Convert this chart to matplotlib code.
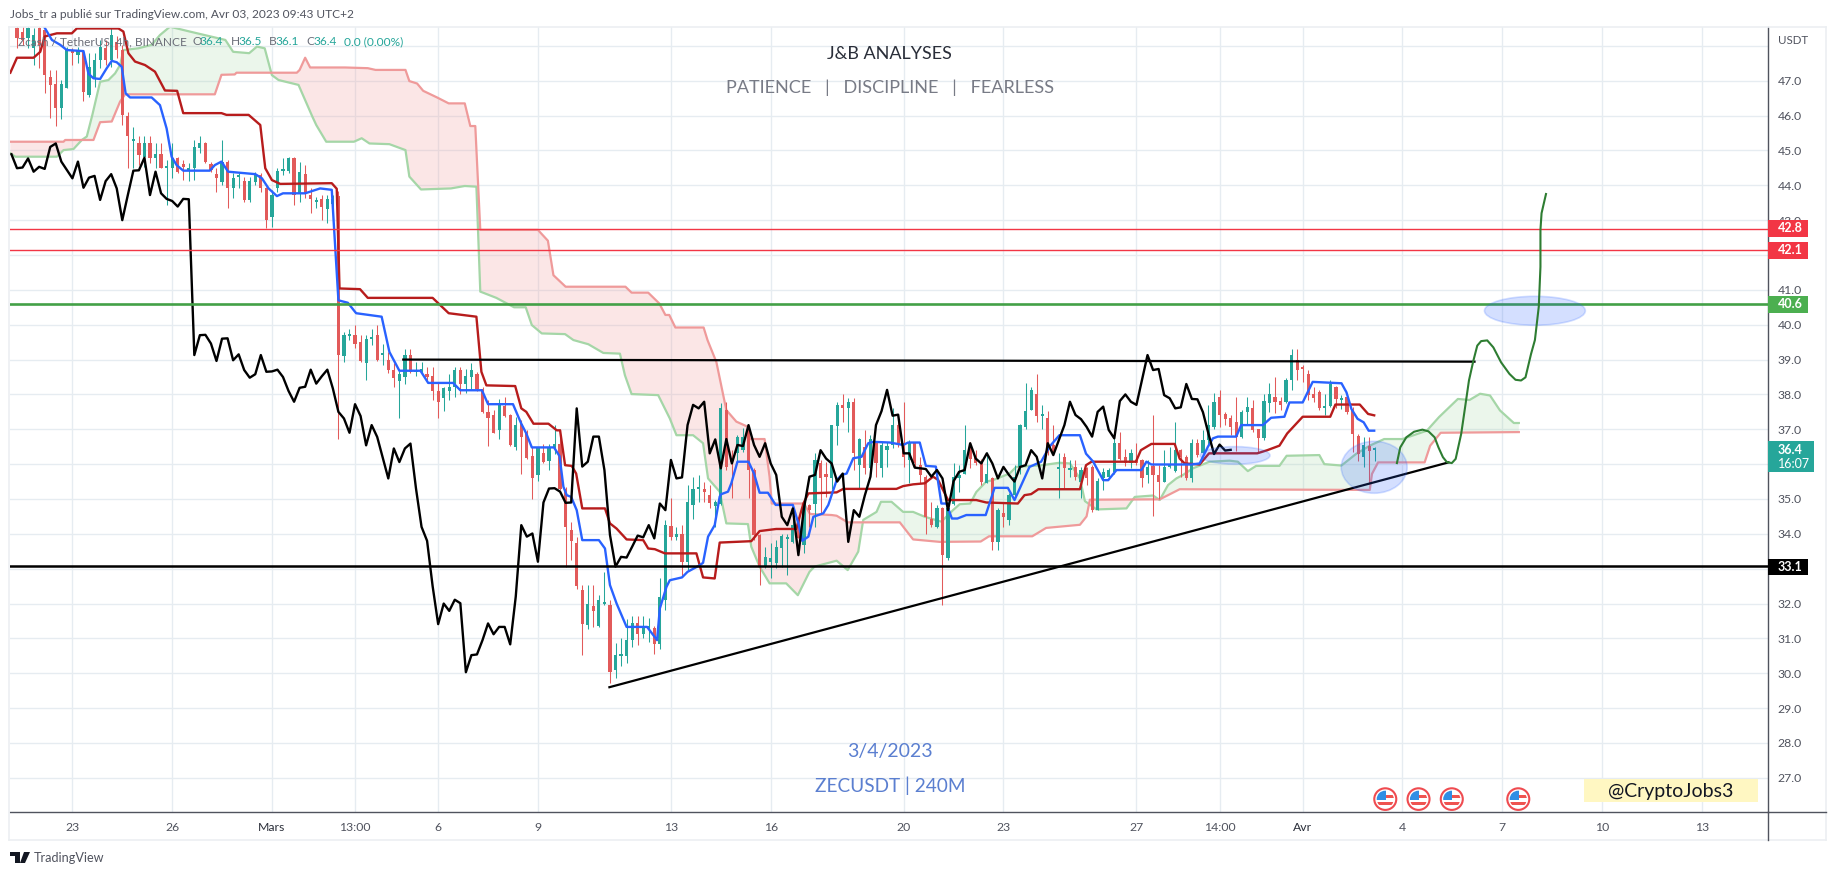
import numpy as np
import matplotlib
matplotlib.use("Agg")
import matplotlib.pyplot as plt
from matplotlib.patches import Ellipse, Rectangle, Polygon

plt.rcParams['font.family'] = ['Lato', 'DejaVu Sans']

W, H = 1834, 875
FONT_LABEL = '#50535e'

# ---- tick labels (x in 4h bars since 23 Feb 00:00) ----
x_tick_pos = [0, 18, 36, 51, 66, 84, 108, 126, 150, 168, 192, 207, 222, 240, 258, 276, 294]
x_tick_lab = ['23', '26', 'Mars', '13:00', '6', '9', '13', '16', '20', '23', '27', '14:00', 'Avr', '4', '7', '10', '13']
y_grid = [27, 28, 29, 30, 31, 32, 33, 34, 35, 36, 37, 38, 39, 40, 41, 42, 43, 44, 45, 46, 47, 48]
y_hidden_labels = [33, 36, 42, 48]

# ---- candles: first bar index, then OHLC ----
first_bar = -10
opens = [48.52,48.4,48.22,47.93,48.5,48.46,47.12,46.91,46.21,46.78,
47.88,47.74,47.83,46.59,47.07,47.6,47.93,47.6,48.12,47.88,
46.0,45.28,45.2,44.82,45.2,44.79,44.89,44.49,44.49,44.79,
44.6,44.45,44.49,45.08,45.2,44.6,44.31,44.1,44.68,43.91,
44.24,44.12,43.58,44.1,44.3,43.93,43.1,43.91,44.4,44.41,
44.79,43.77,44.31,43.72,43.52,43.61,43.32,43.45,43.7,39.1,
39.67,39.7,39.51,38.91,39.58,39.7,39.12,39.0,38.71,38.39,
38.5,39.13,38.63,38.68,38.6,38.52,38.1,37.91,38.1,38.22,
38.71,38.29,38.5,38.6,38.17,37.5,37.4,36.97,37.66,37.4,
36.48,37.15,36.93,36.23,35.68,36.32,36.09,36.5,36.59,35.3,
34.1,33.74,32.4,31.38,31.92,31.35,31.98,31.96,30.09,30.5,
30.5,30.95,31.43,31.12,31.3,31.3,30.83,32.1,34.23,33.92,
34.01,33.2,34.83,35.28,35.3,35.11,34.81,34.87,37.55,36.17,
36.31,36.4,37.03,35.83,33.97,33.06,33.2,33.15,33.58,33.85,
33.77,34.4,33.68,34.83,34.87,36.02,35.72,35.59,37.09,37.71,
37.6,37.79,35.97,36.5,35.88,36.6,35.88,36.4,36.55,37.12,
36.6,36.12,36.6,35.97,35.64,34.42,34.2,34.73,33.3,34.87,
35.59,35.73,36.45,36.21,36.07,35.47,35.59,33.77,34.61,34.39,
35.11,35.92,37.07,37.55,38.0,37.39,37.33,36.55,35.86,36.21,
35.82,35.92,35.5,35.88,35.92,34.68,35.59,35.64,35.78,36.6,
36.21,36.02,36.12,36.12,35.69,35.95,35.7,35.5,35.92,35.8,
36.4,36.21,35.61,36.6,36.31,36.69,37.07,37.93,37.43,37.31,
37.2,36.79,37.5,37.6,37.0,36.74,37.74,37.93,37.81,37.79,
38.41,38.98,38.79,38.6,38.0,38.08,37.6,37.68,38.2,37.83,
37.92,37.58,36.82,36.2,36.53,36.4]
highs = [48.6,48.6,48.6,48.5,48.6,48.6,47.31,47.31,47.02,47.98,
47.93,47.98,47.88,47.79,47.79,48.17,48.17,48.5,48.27,48.03,
46.09,45.68,45.4,45.4,45.4,45.2,45.2,44.73,45.2,44.82,
44.73,44.63,45.3,45.4,45.25,44.68,44.49,45.3,44.73,44.34,
44.34,44.25,44.25,44.39,44.34,43.96,43.87,44.49,44.79,44.82,
44.82,44.68,44.58,43.91,43.67,43.72,43.72,43.72,43.85,39.8,
39.89,39.99,39.7,39.7,39.89,39.99,39.46,39.22,38.91,38.68,
39.29,39.29,38.93,38.93,38.79,38.79,38.36,38.22,38.6,38.79,
38.79,38.74,38.91,38.65,38.22,37.83,37.55,37.88,37.93,37.43,
37.36,37.26,36.97,36.5,36.5,36.59,36.59,37.12,37.02,35.35,
34.34,33.91,32.53,32.53,32.53,32.24,32.91,32.1,30.87,31.0,
31.55,31.65,31.65,31.65,31.6,31.35,32.72,34.4,35.02,34.2,
34.25,35.4,35.62,35.69,35.5,35.4,34.97,37.74,37.79,36.4,
36.83,37.03,37.07,35.88,34.01,33.63,33.73,33.82,34.01,34.01,
34.49,34.49,34.97,34.87,36.31,36.12,36.07,37.12,37.79,38.01,
37.89,37.89,36.74,36.98,36.83,36.64,36.64,36.64,37.6,37.41,
37.79,36.69,36.64,36.21,35.69,34.92,34.83,34.78,34.92,36.02,
35.97,37.12,36.64,36.4,36.16,36.36,35.64,34.73,34.92,35.16,
35.97,37.14,38.34,38.22,38.6,37.7,37.52,37.12,36.31,36.31,
36.12,36.12,35.92,35.92,35.97,35.61,35.88,35.88,36.79,36.91,
36.43,36.43,36.6,36.16,36.12,37.41,35.97,36.4,36.5,37.2,
36.43,36.26,36.72,36.72,36.98,37.71,38.03,38.13,37.5,37.41,
37.93,37.55,37.93,37.84,37.02,38.0,38.32,38.51,37.93,38.46,
39.3,39.3,38.84,38.7,38.22,38.12,38.0,38.4,38.25,37.97,
37.97,37.63,36.87,36.77,36.77,36.5]
lows = [47.93,48.03,47.93,47.45,47.36,46.64,45.92,45.71,45.9,46.78,
47.45,47.5,46.42,46.54,46.83,47.36,47.45,47.4,47.64,45.73,
44.49,44.49,44.58,44.53,44.63,44.49,44.49,43.44,44.2,44.34,
44.15,44.12,44.15,44.92,44.63,44.39,43.82,44.01,43.34,43.63,
43.91,43.53,43.53,44.01,43.82,42.77,42.81,43.82,44.3,44.34,
43.44,43.53,43.63,43.2,43.34,43.0,42.91,43.34,36.73,38.93,
39.56,39.32,38.93,38.41,39.41,38.96,38.84,38.62,38.22,37.33,
38.31,38.62,38.52,38.6,38.41,37.83,37.31,37.53,37.83,37.93,
38.01,38.03,38.17,38.1,37.47,36.51,36.88,36.73,37.34,36.51,
36.4,35.73,36.16,35.01,35.52,36.04,35.83,36.3,35.25,33.05,
33.24,32.43,30.52,31.28,31.33,31.33,31.95,29.72,29.86,30.2,
30.3,30.75,30.8,31.0,30.9,30.55,30.7,31.81,33.82,33.82,
32.77,32.96,34.44,34.92,34.92,34.73,34.2,34.83,35.83,35.02,
36.02,36.36,35.02,33.82,32.53,33.01,32.72,33.01,33.06,32.82,
33.73,33.87,33.44,34.2,34.2,34.59,35.07,35.3,36.55,37.22,
36.93,35.83,35.3,35.73,35.83,35.64,35.64,35.93,36.45,36.5,
35.93,35.45,35.88,35.45,34.01,34.2,34.16,31.96,33.25,34.83,
35.21,35.73,35.88,35.97,35.4,35.45,33.53,33.53,34.2,34.25,
35.02,35.73,37.02,37.55,37.22,37.02,36.26,36.28,35.02,35.3,
35.64,35.54,35.02,35.4,34.63,34.68,35.26,35.59,35.73,36.12,
35.95,35.88,35.97,35.35,35.45,34.52,35.0,35.5,35.88,35.78,
35.64,35.54,35.48,36.21,36.31,36.55,37.02,37.07,37.12,36.83,
36.37,36.74,37.12,36.93,36.31,36.69,37.5,37.46,37.55,37.74,
38.12,38.41,38.36,37.84,37.79,37.55,37.4,37.63,37.61,37.58,
37.44,36.34,36.1,35.91,35.43,36.1]
closes = [48.22,48.17,48.52,48.31,48.03,47.17,46.88,46.21,46.9,47.88,
47.79,47.88,46.69,47.4,47.6,47.98,47.6,48.31,47.88,46.02,
45.4,45.3,44.87,45.2,44.77,44.89,44.49,44.51,44.77,44.39,
44.53,44.47,45.1,45.2,44.68,44.44,44.2,44.68,43.93,44.22,
44.27,43.58,44.12,44.32,43.91,43.0,43.72,44.42,44.43,44.79,
43.72,44.39,43.77,43.61,43.55,43.39,43.61,43.6,39.13,39.7,
39.71,39.46,38.96,39.6,39.61,38.98,39.15,38.7,38.48,38.58,
39.13,38.65,38.66,38.71,38.5,38.1,37.79,38.19,38.22,38.71,
38.31,38.52,38.71,38.17,37.5,37.31,36.9,37.72,37.38,36.54,
37.12,36.78,36.19,35.59,36.45,36.06,36.45,36.59,35.3,34.2,
33.8,32.5,31.41,32.0,31.79,32.11,32.01,30.03,30.52,30.54,
30.95,31.43,31.12,31.33,31.33,30.83,32.2,34.25,33.92,34.01,
33.2,34.9,35.3,35.31,35.21,34.89,34.9,37.6,35.93,36.07,
36.79,36.79,35.83,33.97,33.06,33.34,33.32,33.63,33.95,33.9,
34.25,33.87,34.87,34.68,36.12,35.59,35.62,37.12,37.7,37.6,
37.79,36.31,36.71,35.88,36.72,36.02,36.55,36.52,37.12,36.55,
36.21,36.6,36.02,35.69,34.49,34.25,34.73,33.39,34.73,35.64,
35.69,36.4,36.16,36.02,35.5,35.73,33.77,34.68,34.49,35.11,
35.64,37.12,37.52,38.13,37.39,37.42,36.31,36.31,35.9,35.88,
35.86,35.64,35.83,35.59,34.68,35.51,35.78,35.83,36.6,36.16,
36.02,36.31,36.02,35.59,35.92,35.69,35.5,35.92,35.97,36.4,
36.21,35.59,36.6,36.26,36.69,37.12,37.79,37.41,37.29,37.07,
36.79,37.5,37.65,36.98,36.74,37.81,38.0,37.79,37.7,38.41,
39.13,38.7,38.73,37.98,37.89,37.6,37.63,38.3,37.87,37.86,
37.49,36.87,36.29,36.56,36.39,36.41]

# ---- lagging span: first point at bar -11, one per bar ----
lag_first_bar = -11
lagging_span = [44.89,44.49,44.51,44.77,44.39,
44.53,44.47,45.1,45.2,44.68,44.44,44.2,44.68,43.93,44.22,
44.27,43.58,44.12,44.32,43.91,43.0,43.72,44.42,44.43,44.79,
43.72,44.39,43.77,43.61,43.55,43.39,43.61,43.6,39.13,39.7,
39.71,39.46,38.96,39.6,39.61,38.98,39.15,38.7,38.48,38.58,
39.13,38.65,38.66,38.71,38.5,38.1,37.79,38.19,38.22,38.71,
38.31,38.52,38.71,38.17,37.5,37.31,36.9,37.72,37.38,36.54,
37.12,36.78,36.19,35.59,36.45,36.06,36.45,36.59,35.3,34.2,
33.8,32.5,31.41,32.0,31.79,32.11,32.01,30.03,30.52,30.54,
30.95,31.43,31.12,31.33,31.33,30.83,32.2,34.25,33.92,34.01,
33.2,34.9,35.3,35.31,35.21,34.89,34.9,37.6,35.93,36.07,
36.79,36.79,35.83,33.97,33.06,33.34,33.32,33.63,33.95,33.9,
34.25,33.87,34.87,34.68,36.12,35.59,35.62,37.12,37.7,37.6,
37.79,36.31,36.71,35.88,36.72,36.02,36.55,36.52,37.12,36.55,
36.21,36.6,36.02,35.69,34.49,34.25,34.73,33.39,34.73,35.64,
35.69,36.4,36.16,36.02,35.5,35.73,33.77,34.68,34.49,35.11,
35.64,37.12,37.52,38.13,37.39,37.42,36.31,36.31,35.9,35.88,
35.86,35.64,35.83,35.59,34.68,35.51,35.78,35.83,36.6,36.16,
36.02,36.31,36.02,35.59,35.92,35.69,35.5,35.92,35.97,36.4,
36.21,35.59,36.6,36.26,36.69,37.12,37.79,37.41,37.29,37.07,
36.79,37.5,37.65,36.98,36.74,37.81,38.0,37.79,37.7,38.41,
39.13,38.7,38.73,37.98,37.89,37.6,37.63,38.3,37.87,37.86,
37.49,36.87,36.29,36.56,36.39,36.41]

# ---- conversion line (blue) ----
tenkan_x = [-5,-3.7,-2.2,-1,2,2.9,3.8,5,6.2,7.1,8,8.9,9.6,10.4,14.3,15.8,17,17.9,18.8,20,24.8,25.7,26.9,28.1,33,34.2,35.4,36.9,38,42,44.7,46.8,48,49.7,51.2,55.8,57.2,59,62.8,64.2,68.7,70,73.9,75,79.5,81,81.9,82.9,86.9,87.9,88.6,89.2,90,91,92,95,96.1,97,98.2,100,103.7,105.5,106,107.2,107.8,110,111,113.2,113.8,114.7,115.9,116.8,117.1,118.3,118.9,120,122,123,124,125.5,126.9,130,131,131.7,132.8,133.7,135.5,136.4,137.9,138.8,139.7,140.9,142.4,143.6,144.5,147.5,149.9,150.8,152.9,154,155.8,156.8,157.7,158.7,159.7,161.3,164.8,166.4,168.8,170,172.7,174.8,176.3,178.1,181.8,182.9,184.2,186,186.9,188.4,192.9,193.8,194.7,201.9,203.4,204.9,205.8,206.7,210,210.9,214.8,216.3,218.7,219.6,222,223.8,229,229.9,230.8,231.9,233,233.9,234.9]
tenkan_y = [48.52,48.17,48.03,47.88,47.85,47.2,47.07,47.05,47.36,47.57,47.53,47.4,46.64,46.52,46.52,46.3,45.63,44.82,44.58,44.42,44.42,44.58,44.68,44.39,44.32,44.2,43.91,43.69,43.77,43.77,43.91,43.87,40.7,40.63,40.33,40.23,39.22,38.68,38.68,38.33,38.33,38.12,38.12,37.72,37.72,37.16,36.88,36.48,36.48,36.23,35.35,35.11,35.06,34.68,33.82,33.82,33.58,32.53,32.0,31.33,31.33,30.95,31.86,32.48,32.67,32.75,32.91,33.1,33.17,33.92,34.25,35.07,35.14,35.21,35.45,36.07,36.07,35.73,35.18,35.18,34.83,34.83,34.3,33.8,33.92,34.49,34.59,34.83,35.54,35.69,35.73,36.17,36.21,36.6,36.64,36.62,36.55,36.62,36.62,35.95,35.93,34.87,34.87,34.44,34.44,34.54,34.54,35.32,35.32,34.97,35.92,36.07,36.5,36.83,36.83,36.3,36.07,35.54,35.54,35.83,35.83,36.07,35.99,35.99,36.02,36.5,36.74,36.79,36.79,37.12,37.12,37.33,37.36,37.77,37.77,38.36,38.32,38.06,37.58,37.3,37.2,36.96,36.96]

# ---- base line (dark red) ----
kijun_x = [-11.2,-10,-7,-5.8,-5,-2.8,-0.1,0.8,8.3,9.2,10.1,11.3,13.1,14.9,16.7,18.9,20,26.9,27.8,31.8,33.9,34.8,36,37.5,46.8,47.7,48.2,51.9,53.3,65,67.9,72.9,73.8,74.7,79.9,81,81.9,83.2,85.9,87.4,88,88.9,90.1,90.9,92,96.1,97,98.2,100,103,103.9,105.1,106.9,112.6,113.8,115.9,116.8,122.5,124,127,130.6,131.9,132.8,137.9,139.1,148.7,149.9,151.7,153.8,155.3,156.2,158,163.1,164.9,170.6,171.8,173,174.3,181.8,182.9,183.9,191.9,192.8,194.7,198.9,199.8,200.7,203.4,205.1,213.8,215.6,217.8,219.2,222,226.97,227.9,232.3,233.8,234.9]
kijun_y = [47.23,47.66,47.66,47.83,48.27,48.36,48.36,48.5,48.5,48.41,47.79,47.55,47.45,47.26,46.72,46.71,46.07,46.07,46.02,46.02,45.73,44.49,44.15,44.04,44.06,43.9,41.04,41.02,40.77,40.77,40.33,40.23,38.65,38.26,38.24,37.6,37.5,37.16,37.16,36.97,36.97,35.97,35.95,35.73,34.73,34.73,34.3,34.15,33.84,33.82,33.58,33.56,33.44,33.44,32.75,32.72,33.75,33.79,34.08,34.14,34.14,34.87,35.16,35.19,35.29,35.29,35.37,35.42,35.45,35.64,35.55,34.97,34.97,34.9,34.87,35.11,35.14,35.28,35.28,35.97,36.07,36.07,36.4,36.58,36.58,36.16,36.02,35.99,36.31,36.31,36.4,36.53,36.88,37.36,37.36,37.71,37.71,37.44,37.4]

# ---- leading span A (green edge) ----
span_a_x = [-11.2,-10.3,-2.8,-1.6,0.2,1.7,2.6,3.6,5,6.5,7.7,8.6,9.2,11.9,14.3,15.8,17.6,21.2,27.6,29,31.9,33.3,34.7,36,37.2,40.8,43.3,44,45.8,50.8,52.2,53.6,57.2,60.1,60.8,62.9,68.3,70.8,72.9,73.6,76.5,79.7,81.8,82.9,84.7,88.9,90.4,93.1,95.8,98.8,99.7,100.9,105.7,107.8,109,112,113.8,114.7,116.8,118,121.9,122.5,124,125.8,128.8,130.9,133,133.9,137.9,139.9,141.8,142.7,145.1,145.9,147.8,149.9,151.7,153.8,156.8,158.9,160.1,162,163.1,164.9,166.1,169.1,170.3,175,178.1,180,181.8,182.7,184.8,190.2,191.7,195,196.2,197.7,199.2,200.4,202.2,205.2,208.8,210.3,212.1,213.6,217.8,219.1,225,225.9,229,231.6,234.1,236.7,240,244.4,246.6,250,252.1,254,255.8,257.6,260.1,261]
span_a_y = [44.92,44.82,44.82,45.01,45.04,45.3,45.4,46.02,46.97,47.02,47.21,47.45,47.88,47.93,48.03,48.31,48.55,48.41,48.17,47.83,47.79,47.98,47.93,47.16,47.02,46.88,45.97,45.73,45.25,45.25,45.35,45.2,45.18,45.01,44.25,43.88,43.91,43.98,43.96,40.95,40.77,40.5,40.5,39.99,39.75,39.73,39.56,39.44,39.19,39.17,38.55,38.01,37.98,37.31,36.83,36.83,36.6,35.59,35.21,34.3,34.28,33.63,33.06,32.58,32.58,32.24,32.91,33.06,33.23,32.96,33.49,34.4,34.63,34.92,34.92,34.63,34.63,34.49,34.35,34.68,34.85,34.87,35.2,35.5,35.54,35.73,35.92,35.97,36.04,36.02,35.59,34.94,34.7,34.73,35.06,35.1,34.97,35.4,35.59,35.69,35.88,36.07,36.1,36.07,35.8,35.95,35.95,36.24,36.26,36.0,35.96,36.29,36.53,36.72,36.72,36.96,37.35,37.87,37.84,38.02,37.97,37.54,37.18,37.18]

# ---- leading span B (red edge) ----
span_b_x = [-11.2,-1.6,-1.3,3.8,5,7.1,8.6,9.5,25.7,26.9,29.3,29.6,40.5,41,42,42.9,49.2,53.3,54.7,60.1,60.8,62.2,63.3,65.8,67.9,70.8,71.8,72.7,73.6,84,85.8,86.8,89,99.8,100.9,103.9,105.9,107,107.7,108.8,113.9,114.6,116.2,118,119.8,121.9,122.2,124.9,125.8,126.2,132,133.1,137,137.9,139.9,149.3,151.7,156.5,163.9,165.4,173.2,175.7,181.8,183,183.6,196.2,197.7,199.8,234.1,234.5,235.6,244,245,246.9,261]
span_b_y = [45.25,45.25,45.3,45.3,45.81,45.83,46.4,46.61,46.61,47.17,47.18,47.23,47.23,47.31,47.66,47.38,47.38,47.36,47.31,47.31,46.99,46.92,46.71,46.52,46.35,46.35,45.7,45.7,42.72,42.72,42.41,41.42,41.09,41.09,40.92,40.92,40.61,40.28,40.28,39.92,39.92,39.56,38.93,37.55,37.22,37.07,36.72,36.72,35.64,34.87,34.87,34.57,34.54,34.52,34.33,34.33,33.84,33.77,33.78,33.93,33.93,34.17,34.26,34.5,34.98,34.99,35.11,35.28,35.26,35.72,36.05,36.05,36.53,36.9,36.92]

# ---- drawings ----
level_prices = [42.76, 42.14, 40.59, 33.07]
level_labels = ['42.8', '42.1', '40.6', '33.1']
top_line_x, top_line_y = [59.7, 253], [39.0, 38.94]
trend_x, trend_y = [96.9, 248.3], [29.6, 36.05]
path_x = [239,239.6,240.7,242.1,243.6,244.7,245.8,246.5,247.3,248,248.9,249.6,250.6,251.3,252,252.8,253.5,254.2,255.3,256.4,257.8,259.3,260.4,261.4,262.2,263.2,263.9,264.6,264.9,264.9,265.1,265.9]
path_y = [36.03,36.48,36.77,36.93,36.99,36.94,36.77,36.48,36.2,36.06,36.03,36.15,36.87,37.63,38.4,38.97,39.4,39.53,39.55,39.35,38.92,38.59,38.42,38.4,38.49,39.16,39.56,40.52,41.66,42.72,43.2,43.75]
flag_bars = [236.9, 242.9, 248.9, 260.9]
flag_price = 26.39

fig = plt.figure(figsize=(W/100, H/100), dpi=100, facecolor='white')
L, R, T, B = 9.5, 1768.0, 26.7, 812.0
ax = fig.add_axes([L/W, 1-B/H, (R-L)/W, (B-T)/H])
ax.set_xlim(-11.35, 305.96)
ax.set_ylim(26.02, 48.55)

def fx(x): return x/W
def fy(y): return 1-y/H

# grid
ax.set_axisbelow(True)
ax.set_xticks(x_tick_pos)
ax.set_xticklabels(x_tick_lab)
ax.set_yticks(y_grid)
ax.set_yticklabels(['' if v in y_hidden_labels else f'{v:.1f}' for v in y_grid])
ax.yaxis.tick_right()
ax.grid(True, color='#e6ecf1', lw=1.0)
ax.tick_params(axis='both', length=0, labelsize=8.8, labelcolor=FONT_LABEL)
ax.tick_params(axis='x', pad=7)
ax.tick_params(axis='y', pad=7)
for lab in ax.get_xticklabels():
    if lab.get_text() in ('Mars', 'Avr'):
        lab.set_color('#2a2e39')
for s in ('top', 'left'):
    ax.spines[s].set_visible(False)
for s in ('right', 'bottom'):
    ax.spines[s].set_color('#50535e')
    ax.spines[s].set_linewidth(1.0)

# cloud
grid_x = np.union1d(span_a_x, span_b_x)
a_i = np.interp(grid_x, span_a_x, span_a_y)
b_i = np.interp(grid_x, span_b_x, span_b_y)
ax.fill_between(grid_x, a_i, b_i, where=a_i >= b_i, interpolate=True, color='#a5d6a7', alpha=0.22, lw=0, zorder=1)
ax.fill_between(grid_x, a_i, b_i, where=a_i <= b_i, interpolate=True, color='#ef9a9a', alpha=0.24, lw=0, zorder=1)
ax.plot(span_a_x, span_a_y, color='#a5d6a7', lw=1.6, zorder=2, solid_joinstyle='round')
ax.plot(span_b_x, span_b_y, color='#ef9a9a', lw=1.6, zorder=2, solid_joinstyle='round')

# candles
bars = np.arange(len(closes)) + first_bar
o, h, l, c = map(np.array, (opens, highs, lows, closes))
up = c >= o
UP, DOWN = '#26a69a', '#e25a5a'
cols = np.where(up, UP, DOWN)
ax.vlines(bars, l, h, colors=cols, lw=0.75, zorder=3)
ax.bar(bars, np.maximum(np.abs(c-o), 0.06), bottom=np.minimum(o, c), width=0.58, color=cols, lw=0, zorder=3)

# indicator lines
ax.plot(kijun_x, kijun_y, color='#b71c1c', lw=1.7, zorder=4)
ax.plot(tenkan_x, tenkan_y, color='#2962ff', lw=1.7, zorder=4)
lag_x = np.arange(len(lagging_span)) + lag_first_bar
ax.plot(lag_x, lagging_span, color='black', lw=1.7, zorder=5)

# levels
ax.axhline(level_prices[0], color='#f23645', lw=1.0, zorder=6)
ax.axhline(level_prices[1], color='#f23645', lw=1.0, zorder=6)
ax.axhline(level_prices[2], color='#43a047', lw=1.9, zorder=6)
ax.axhline(level_prices[3], color='black', lw=1.8, zorder=6)
ax.plot(top_line_x, top_line_y, color='black', lw=1.6, zorder=6)
ax.plot(trend_x, trend_y, color='black', lw=1.6, zorder=6)

# highlighted zones
for (cx, cy, ew, eh) in [(263.9, 40.4, 18.2, 0.83), (234.9, 35.91, 11.9, 1.49), (209.8, 36.25, 12.6, 0.505)]:
    ax.add_patch(Ellipse((cx, cy), ew, eh, facecolor='#2962ff', alpha=0.2, edgecolor='#2962ff', lw=1.2, zorder=6.5))

ax.plot(path_x, path_y, color='#2e7d32', lw=1.5, zorder=7)

# flags
fw, fh = 3.97, 0.62
for fb in flag_bars:
    e = Ellipse((fb, flag_price), fw, fh, facecolor='white', edgecolor='#ef4b50', lw=1.5, zorder=8)
    ax.add_patch(e)
    inner = Ellipse((fb, flag_price), fw*0.78, fh*0.78, transform=ax.transData)
    parts = [Rectangle((fb-fw/2, flag_price-0.02), fw/2+0.1, 0.32, facecolor='#2f8ee5', lw=0, zorder=8.1),
             Rectangle((fb+0.1, flag_price+0.02), fw/2, 0.1, facecolor='#ef5350', lw=0, zorder=8.1),
             Rectangle((fb-fw/2, flag_price-0.17), fw, 0.08, facecolor='#ef5350', lw=0, zorder=8.1)]
    for p in parts:
        ax.add_patch(p)
        p.set_clip_path(inner)

# signature box
ax.add_patch(Rectangle((272.7, 26.31), 31.4, 0.65, facecolor='#fff7c2', lw=0, zorder=8))
fig.text(fx(1671), fy(791.7), '@CryptoJobs3', fontsize=14, color='#131722', ha='center', va='center', zorder=20)

# outer frame
for seg in [((9, 1826), (26.7, 26.7)), ((9, 9), (26.7, 840)), ((9, 1826), (840, 840)), ((1826, 1826), (26.7, 840))]:
    fig.add_artist(plt.Line2D([fx(seg[0][0]), fx(seg[0][1])], [fy(seg[1][0]), fy(seg[1][1])], color='#eceff2', lw=1.2))
fig.add_artist(plt.Line2D([fx(1768), fx(1768)], [fy(812), fy(840)], color='#50535e', lw=1.0))
fig.add_artist(plt.Line2D([fx(1768), fx(1826)], [fy(812), fy(812)], color='#50535e', lw=1.0))

# price labels
def price_box(y0, y1, color, x1=1808):
    fig.patches.append(Rectangle((fx(1768), fy(y1)), fx(x1-1768), fy(y0)-fy(y1), transform=fig.transFigure, facecolor=color, lw=0, zorder=10))

box_rows = [(220, 237, '#f23645', 228.5, level_labels[0]), (242, 259, '#f23645', 250.5, level_labels[1]),
            (296, 312.7, '#4caf50', 304.5, level_labels[2]), (559, 575, '#000000', 567, level_labels[3])]
for y0, y1, colr, yt, txt in box_rows:
    price_box(y0, y1, colr)
    fig.text(fx(1778), fy(yt), txt, color='white', fontsize=9.0, ha='left', va='center', fontweight='bold', zorder=11)
price_box(441, 471.7, '#26a69a', 1814)
fig.text(fx(1778), fy(450), '36.4', color='white', fontsize=9.0, ha='left', va='center', fontweight='bold', zorder=11)
fig.text(fx(1778), fy(464), '16:07', color='white', fontsize=9.0, ha='left', va='center', zorder=11)
fig.text(fx(1778), fy(41), 'USDT', color=FONT_LABEL, fontsize=8.3, ha='left', va='center')

# texts
fig.text(fx(10), fy(14.7), 'Jobs_tr a publié sur TradingView.com, Avr 03, 2023 09:43 UTC+2', fontsize=8.6, color='#50535e', ha='left', va='center')
LEG = '#6a6d78'; TEAL = '#26a69a'
for xp, txt, colr in [(18, 'Zcash / TetherUS, 4h, BINANCE', LEG), (192.6, 'O', LEG), (199, '36.4', TEAL), (231, 'H', LEG), (238, '36.5', TEAL),
                      (269, 'B', LEG), (275.6, '36.1', TEAL), (306.4, 'C', LEG), (313, '36.4', TEAL), (344, '0.0 (0.00%)', TEAL)]:
    fig.text(fx(xp), fy(41.7), txt, fontsize=8.6, color=colr, ha='left', va='center', zorder=15)
fig.text(fx(889.5), fy(54), 'J&B ANALYSES', fontsize=13, color='#2a2e39', ha='center', va='center', zorder=15)
fig.text(fx(890), fy(88), 'PATIENCE   |   DISCIPLINE   |   FEARLESS', fontsize=13.1, color='#787b86', ha='center', va='center', zorder=15)
fig.text(fx(890), fy(752), '3/4/2023', fontsize=14, color='#5b7fd0', ha='center', va='center', zorder=15)
fig.text(fx(890), fy(786), 'ZECUSDT | 240M', fontsize=13.7, color='#5b7fd0', ha='center', va='center', zorder=15)

# footer mark
fig.patches.extend([
    Polygon([(fx(10), fy(852)), (fx(20), fy(852)), (fx(20), fy(863)), (fx(15), fy(863)), (fx(15), fy(856)), (fx(10), fy(856))], closed=True, transform=fig.transFigure, facecolor='#131722', lw=0),
    Polygon([(fx(24), fy(852)), (fx(30), fy(852)), (fx(25), fy(863)), (fx(20), fy(863))], closed=True, transform=fig.transFigure, facecolor='#131722', lw=0),
])
fig.text(fx(33.5), fy(857.5), 'TradingView', fontsize=9.1, color='#50535e', ha='left', va='center')

fig.savefig('out.png', dpi=100)
